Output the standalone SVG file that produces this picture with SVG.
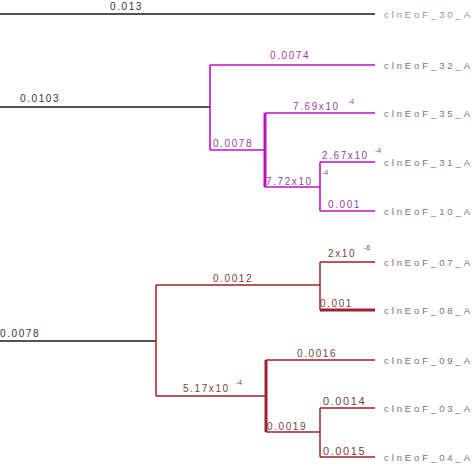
<svg xmlns="http://www.w3.org/2000/svg" width="474" height="474" viewBox="0 0 474 474">
<style>
.bk{stroke:#1a1a1a;stroke-width:1.6;fill:none}
.mg{stroke:#c010c0;stroke-width:1.6;fill:none}
.rd{stroke:#a0202c;stroke-width:1.5;fill:none}
.thk{stroke-width:3}
text{font-family:"Liberation Sans",Arial,sans-serif;font-size:10px;letter-spacing:1.6px}
.nb{fill:#333}
.nm{fill:#9a40a0}
.nr{fill:#7a4040}
.sup{font-size:7px;letter-spacing:0}
.leaf{font-size:9.5px;letter-spacing:2.9px}
.lg{fill:#8a9a8a}
.lm{fill:#8a6a90}
.lr{fill:#8a6a70}
</style>
<rect width="474" height="474" fill="#ffffff"/>
<g id="connectors">
<path class="bk" d="M0 14H375"/>
<path class="bk" d="M0 107H210"/>
<path class="mg" d="M210 65V150M210 65H375M210 150H265"/>
<path class="mg thk" d="M265 113V187"/>
<path class="mg" d="M265 113H375M265 187H320M320 162V211M320 162H375M320 211H375"/>
<path class="bk" d="M0 341H156"/>
<path class="rd" d="M156 285V396M156 285H320M156 396H266M320 262V310M320 262H375"/>
<path class="rd thk" d="M320 310H375"/>
<path class="rd thk" d="M266 360V432"/>
<path class="rd" d="M266 360H375M266 432H320M320 408V457M320 408H375M320 457H375"/>
</g>
<g id="branch-labels">
<text class="nb" x="110" y="10">0.013</text>
<text class="nb" x="20" y="102">0.0103</text>
<text class="nm" x="270" y="59">0.0074</text>
<text class="nm" x="213" y="147">0.0078</text>
<text class="nm" x="293" y="110">7.69x10</text><text class="nm sup" x="348" y="104">-4</text>
<text class="nm" x="266" y="185">7.72x10</text><text class="nm sup" x="322" y="175">-4</text>
<text class="nm" x="322" y="159">2.67x10</text><text class="nm sup" x="375" y="153">-4</text>
<text class="nm" x="328" y="208">0.001</text>
<text class="nb" x="0" y="337">0.0078</text>
<text class="nr" x="213" y="282">0.0012</text>
<text class="nr" x="328" y="257">2x10</text><text class="nr sup" x="364" y="250">-6</text>
<text class="nr" x="320" y="307">0.001</text>
<text class="nr" x="297" y="357">0.0016</text>
<text class="nr" x="183" y="392">5.17x10</text><text class="nr sup" x="236" y="385">-4</text>
<text class="nr" x="267" y="430">0.0019</text>
<text class="nr" x="323" y="405" style="font-size:11px">0.0014</text>
<text class="nr" x="323" y="455" style="font-size:11px">0.0015</text>
</g>
<g id="leaf-30"><text class="leaf lg" x="384" y="18">clnEoF_30_A</text></g>
<g id="leaf-32"><text class="leaf lm" x="384" y="69">clnEoF_32_A</text></g>
<g id="leaf-35"><text class="leaf lm" x="384" y="117">clnEoF_35_A</text></g>
<g id="leaf-31"><text class="leaf lm" x="384" y="166">clnEoF_31_A</text></g>
<g id="leaf-10"><text class="leaf lm" x="384" y="215">clnEoF_10_A</text></g>
<g id="leaf-07"><text class="leaf lr" x="384" y="266">clnEoF_07_A</text></g>
<g id="leaf-08"><text class="leaf lr" x="384" y="314">clnEoF_08_A</text></g>
<g id="leaf-09"><text class="leaf lr" x="384" y="364">clnEoF_09_A</text></g>
<g id="leaf-03"><text class="leaf lr" x="384" y="412">clnEoF_03_A</text></g>
<g id="leaf-04"><text class="leaf lr" x="384" y="461">clnEoF_04_A</text></g>
</svg>
